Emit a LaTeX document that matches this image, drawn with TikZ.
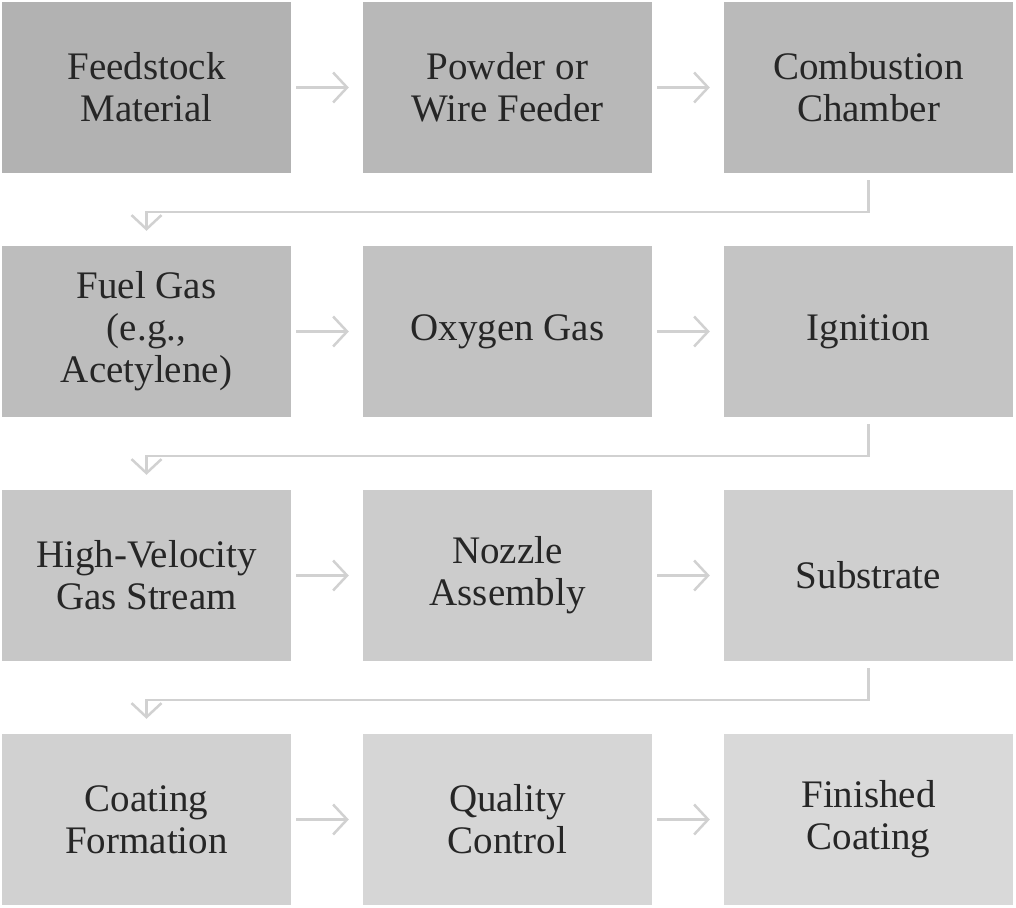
\documentclass[tikz,border=0pt]{standalone}
\usepackage{fontspec}
\setmainfont{Liberation Serif}
\usetikzlibrary{arrows.meta}
\begin{document}
\begin{tikzpicture}[x=1pt,y=-1pt,
 box/.style={minimum width=289pt,minimum height=171pt,inner sep=0pt,align=center,font=\fontsize{39}{42}\selectfont,text=black!85},
 arr/.style={draw=black!18,line width=2.5pt,-{Straight Barb[length=14pt,width=30pt,line width=2.5pt]}}]
\useasboundingbox (0,0) rectangle (1016,907);
\def\xs{{146.5,507.5,868.5}}
\def\ys{{87.5,331.5,575.5,819.5}}
\foreach \r/\row in {0/{{Feedstock\\Material},{Powder or\\Wire Feeder},{Combustion\\Chamber}},
  1/{{Fuel Gas\\(e.g.,\\Acetylene)},{Oxygen Gas},{Ignition}},
  2/{{High-Velocity\\Gas Stream},{Nozzle\\Assembly},{Substrate}},
  3/{{Coating\\Formation},{Quality\\Control},{Finished\\Coating}}}{
  \foreach \t [count=\c from 0] in \row {
    \pgfmathsetmacro\xx{\xs[\c]}\pgfmathsetmacro\yy{\ys[\r]}
    \pgfmathtruncatemacro\sh{30-1.3*(\r*3+\c)}
    \node[box,fill=black!\sh] (n\r\c) at (\xx,\yy) {\t};
  }
  \draw[arr] ([xshift=5pt]n\r0.east) -- ([xshift=-14pt]n\r1.west);
  \draw[arr] ([xshift=5pt]n\r1.east) -- ([xshift=-14pt]n\r2.west);
}
\foreach \r/\s in {0/1,1/2,2/3}{
  \coordinate (a\r) at ([yshift=-7pt]n\r2.south);
  \coordinate (b\r) at ([yshift=15pt]n\s0.north);
  \draw[arr] (a\r) -- ++(0,32) -| (b\r);
}
\end{tikzpicture}
\end{document}
